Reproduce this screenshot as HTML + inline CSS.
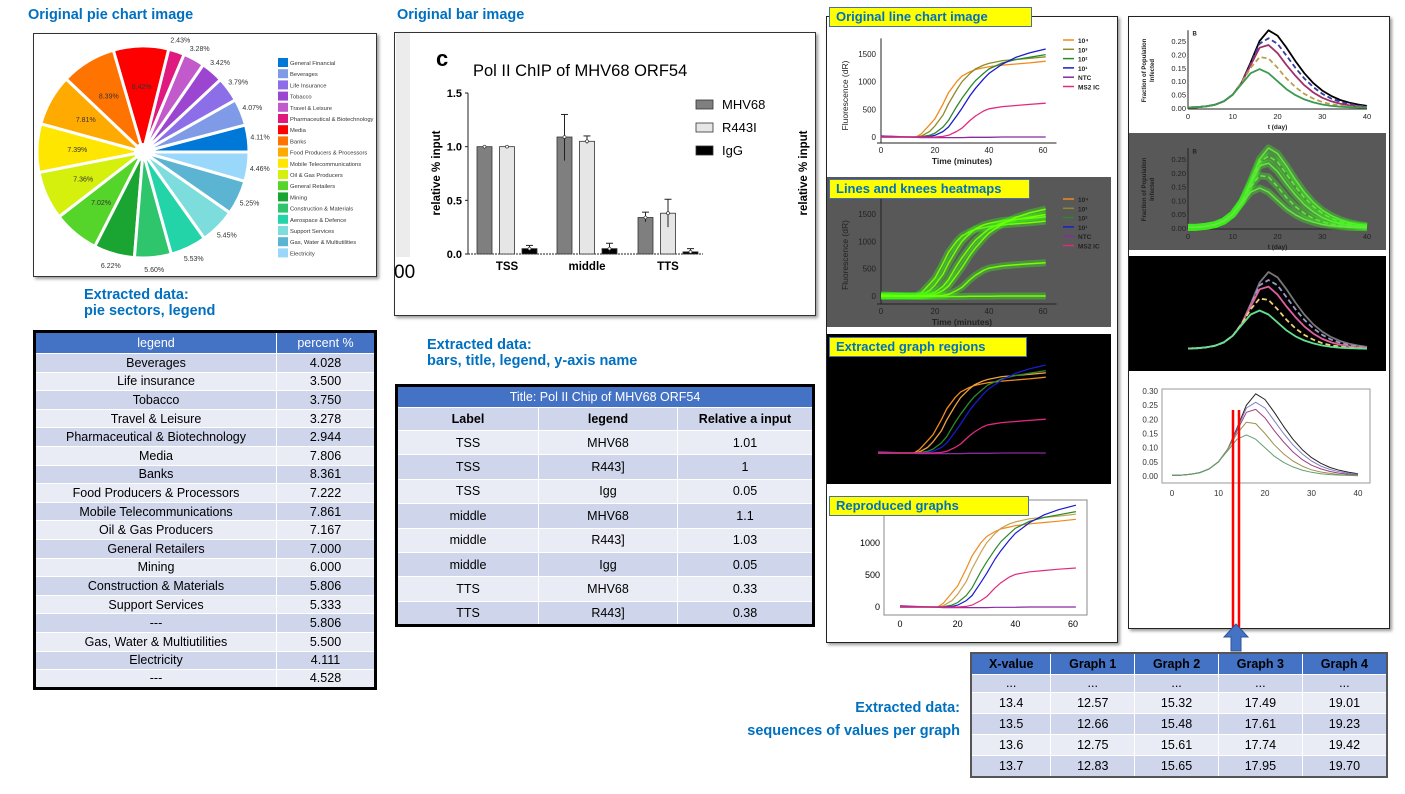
<!DOCTYPE html>
<html><head><meta charset="utf-8">
<style>
body{margin:0;width:1405px;height:794px;background:#fff;position:relative;overflow:hidden;font-family:"Liberation Sans",sans-serif}
.abs{position:absolute}
.ttl{position:absolute;color:#0070C0;font-weight:bold;font-size:14.5px;white-space:nowrap}
.ylab{position:absolute;background:#ffff00;border:1px solid #4a6fa5;color:#0070C0;font-weight:bold;font-size:13px;padding:0 0 0 6px;box-sizing:border-box;line-height:18px}
table{border-collapse:collapse;position:absolute;font-size:12.5px;text-align:center}
td{padding:0;border:1px solid #fff}
.b{background:#CFD5EA}.l{background:#E9EBF5}
.hd{background:#4472C4;color:#fff}
.pt tr{height:18.6px}
.pt tr.hd{height:22px}
svg{position:absolute;left:0;top:0}
</style></head><body>

<div class="ttl" style="left:28px;top:7px">Original pie chart image</div>
<div class="abs" style="left:33px;top:33px;width:342px;height:242px;border:1px solid #333;box-shadow:2px 2px 3px #999"></div>
<div class="ttl" style="left:84px;top:287px">Extracted data:<br>pie sectors, legend</div>

<table class="pt" style="left:33px;top:330px;width:344px;border:3px solid #000">
<tr class="hd"><td style="width:240px">legend</td><td>percent %</td></tr>
<tr class="b"><td>Beverages</td><td>4.028</td></tr>
<tr class="l"><td>Life insurance</td><td>3.500</td></tr>
<tr class="b"><td>Tobacco</td><td>3.750</td></tr>
<tr class="l"><td>Travel &amp; Leisure</td><td>3.278</td></tr>
<tr class="b"><td>Pharmaceutical &amp; Biotechnology</td><td>2.944</td></tr>
<tr class="l"><td>Media</td><td>7.806</td></tr>
<tr class="b"><td>Banks</td><td>8.361</td></tr>
<tr class="l"><td>Food Producers &amp; Processors</td><td>7.222</td></tr>
<tr class="b"><td>Mobile Telecommunications</td><td>7.861</td></tr>
<tr class="l"><td>Oil &amp; Gas Producers</td><td>7.167</td></tr>
<tr class="b"><td>General Retailers</td><td>7.000</td></tr>
<tr class="l"><td>Mining</td><td>6.000</td></tr>
<tr class="b"><td>Construction &amp; Materials</td><td>5.806</td></tr>
<tr class="l"><td>Support Services</td><td>5.333</td></tr>
<tr class="b"><td>---</td><td>5.806</td></tr>
<tr class="l"><td>Gas, Water &amp; Multiutilities</td><td>5.500</td></tr>
<tr class="b"><td>Electricity</td><td>4.111</td></tr>
<tr class="l"><td>---</td><td>4.528</td></tr>
</table>

<div class="ttl" style="left:397px;top:7px">Original bar image</div>
<div class="abs" style="left:394px;top:32px;width:420px;height:282px;border:1px solid #333;box-shadow:2px 2px 3px #999"></div>
<div class="abs" style="left:396px;top:33px;width:14px;height:224px;background:#ececec"></div>
<div class="abs" style="left:394px;top:262px;font-size:19px">00</div>
<div class="ttl" style="left:427px;top:337px">Extracted data:<br>bars, title, legend, y-axis name</div>

<table style="left:395px;top:384px;width:420px;border:3px solid #000;font-size:12.5px">
<tr class="hd" style="height:22px"><td colspan="3">Title: Pol II Chip of MHV68 ORF54</td></tr>
<tr class="b" style="height:23px;font-weight:bold"><td style="width:140px">Label</td><td style="width:138px">legend</td><td>Relative a input</td></tr>
<tr class="l" style="height:24.4px"><td>TSS</td><td>MHV68</td><td>1.01</td></tr>
<tr class="b" style="height:24.4px"><td>TSS</td><td>R443]</td><td>1</td></tr>
<tr class="l" style="height:24.4px"><td>TSS</td><td>Igg</td><td>0.05</td></tr>
<tr class="b" style="height:24.4px"><td>middle</td><td>MHV68</td><td>1.1</td></tr>
<tr class="l" style="height:24.4px"><td>middle</td><td>R443]</td><td>1.03</td></tr>
<tr class="b" style="height:24.4px"><td>middle</td><td>Igg</td><td>0.05</td></tr>
<tr class="l" style="height:24.4px"><td>TTS</td><td>MHV68</td><td>0.33</td></tr>
<tr class="b" style="height:24.4px"><td>TTS</td><td>R443]</td><td>0.38</td></tr>
</table>

<!-- line panels -->
<div class="abs" style="left:826px;top:16px;width:290px;height:625px;border:1px solid #222;box-shadow:2px 2px 3px #999"></div>
<div class="abs" style="left:827px;top:177px;width:284px;height:150px;background:#585858"></div>
<div class="abs" style="left:827px;top:334px;width:284px;height:150px;background:#000"></div>

<div class="abs" style="left:1128px;top:16px;width:260px;height:611px;border:1px solid #222;box-shadow:2px 2px 3px #999"></div>
<div class="abs" style="left:1129px;top:133px;width:257px;height:117px;background:#585858"></div>
<div class="abs" style="left:1129px;top:256px;width:257px;height:115px;background:#000"></div>

<svg id="s" width="1405" height="794"></svg>

<div class="ylab" style="left:829px;top:7px;width:203px">Original line chart image</div>
<div class="ylab" style="left:829px;top:179px;width:201px">Lines and knees heatmaps</div>
<div class="ylab" style="left:829px;top:337px;width:198px">Extracted graph regions</div>
<div class="ylab" style="left:829px;top:496px;width:200px">Reproduced graphs</div>

<div class="ttl" style="left:700px;top:697px;width:260px;text-align:right;line-height:23px">Extracted data:<br>sequences of values per graph</div>
<table style="left:970px;top:652px;width:418px;border:2px solid #555;font-size:12.5px">
<tr class="hd" style="height:21px;font-weight:bold;color:#000"><td>X-value</td><td>Graph 1</td><td>Graph 2</td><td>Graph 3</td><td>Graph 4</td></tr>
<tr class="b" style="height:18px"><td>...</td><td>...</td><td>...</td><td>...</td><td>...</td></tr>
<tr class="l" style="height:21px"><td>13.4</td><td>12.57</td><td>15.32</td><td>17.49</td><td>19.01</td></tr>
<tr class="b" style="height:21px"><td>13.5</td><td>12.66</td><td>15.48</td><td>17.61</td><td>19.23</td></tr>
<tr class="l" style="height:21px"><td>13.6</td><td>12.75</td><td>15.61</td><td>17.74</td><td>19.42</td></tr>
<tr class="b" style="height:22px"><td>13.7</td><td>12.83</td><td>15.65</td><td>17.95</td><td>19.70</td></tr>
</table>

<script>
// ---- pie data ----
const pieLabels=["General Financial","Beverages","Life Insurance","Tobacco","Travel & Leisure","Pharmaceutical & Biotechnology","Media","Banks","Food Producers & Processors","Mobile Telecommunications","Oil & Gas Producers","General Retailers","Mining","Construction & Materials","Aerospace & Defence","Support Services","Gas, Water & Multiutilities","Electricity"];
const pieValues=[4.11,4.07,3.79,3.42,3.28,2.43,8.42,8.39,7.81,7.39,7.36,7.02,6.22,5.60,5.53,5.45,5.25,4.46];
const pieColors=["#0078d7","#7f9ae6","#8b6ee8","#9b45d0","#c25acc","#e0197e","#ff0000","#ff7300","#ffaa00","#ffe600","#d4f00c","#55d42a","#1aa532","#2ec56c","#22d4a8","#7ddddd","#5ab4d2","#99d8fa"];
// ---- bar data ----
const barCats=["TSS","middle","TTS"];
const barSeries=["MHV68","R443I","IgG"];
const barMHV=[1.0,1.09,0.34];
const barR443=[1.0,1.05,0.38];
const barIgG=[0.05,0.05,0.02];
const errLo=[[1.0,0.87,0.3],[1.0,1.03,0.25],[0.03,0.02,0.0]];
const errHi=[[1.0,1.3,0.39],[1.0,1.1,0.51],[0.08,0.1,0.05]];
const barTicks=[0,0.5,1.0,1.5];
// ---- qPCR line data ----
const qTime=[0,5,10,13,15,18,20,23,25,28,30,33,35,38,40,45,50,55,61];
const q1e4=[0,0,0,0,60,220,330,600,800,1000,1100,1180,1220,1250,1270,1300,1320,1340,1370];
const q1e3=[0,0,0,0,20,100,200,400,600,850,1000,1150,1230,1300,1330,1380,1400,1420,1450];
const q1e2=[0,0,0,0,5,30,70,180,300,550,700,900,1020,1150,1230,1340,1400,1440,1490];
const q1e1=[0,0,0,0,0,10,30,100,180,380,520,750,880,1050,1150,1320,1440,1520,1590];
const qNTC=[20,10,0,-5,-10,-10,-10,-10,-10,-10,-10,-5,-5,-5,-5,0,0,0,0];
const qMS2=[0,0,0,0,0,0,0,10,30,100,160,300,380,470,510,550,570,590,610];
const qNames=["10⁴","10³","10²","10¹","NTC","MS2 IC"];
const qTicksY=[0,500,1000,1500];
const qTicksX=[0,20,40,60];
// ---- SIR data ----
const sDays=[0,2,4,6,8,10,12,14,16,18,20,22,24,26,28,30,32,34,36,38,40];
const sGreen=[.002,.003,.006,.012,.025,.05,.09,.13,.145,.13,.1,.07,.048,.032,.021,.013,.008,.005,.003,.002,.001];
const sTan=[.002,.003,.006,.012,.025,.05,.095,.15,.19,.185,.15,.11,.078,.053,.035,.022,.014,.009,.005,.003,.002];
const sMag=[.002,.003,.006,.012,.025,.05,.095,.16,.225,.235,.205,.16,.12,.085,.058,.038,.025,.016,.01,.006,.004];
const sBlue=[.002,.003,.006,.012,.025,.05,.095,.165,.24,.26,.24,.195,.15,.11,.078,.053,.035,.023,.015,.009,.006];
const sBlack=[.002,.003,.006,.012,.025,.05,.095,.17,.25,.29,.27,.225,.175,.13,.093,.065,.045,.03,.02,.013,.008];
const sTicksY=[0,0.05,0.10,0.15,0.20,0.25];
const sTicksX=[0,10,20,30,40];
const sTicksY4=[0,0.05,0.10,0.15,0.20,0.25,0.30];

const S=document.getElementById('s');
const NS='http://www.w3.org/2000/svg';
function mk(tag,at,txt,name){const e=document.createElementNS(NS,tag);for(const k in at)e.setAttribute(k,at[k]);if(txt!==undefined)e.textContent=txt;


S.appendChild(e);return e;}
function lin(d0,d1,r0,r1){return v=>r0+(v-d0)*(r1-r0)/(d1-d0);}
function pl(xs,ys,fx,fy,st,name){const p=xs.map((x,i)=>fx(x).toFixed(1)+','+fy(ys[i]).toFixed(1)).join(' ');
const a=Object.assign({points:p,fill:'none','stroke-linejoin':'round'},st);return mk('polyline',a,undefined,name);}

// ---- PIE ----
(function(){const cx=143,cy=152,r=106;const tot=pieValues.reduce((a,b)=>a+b,0);let a0=0;
pieValues.forEach((v,i)=>{const a1=a0+v/tot*2*Math.PI;
const x0=cx+r*Math.cos(a0),y0=cy-r*Math.sin(a0),x1=cx+r*Math.cos(a1),y1=cy-r*Math.sin(a1);
mk('path',{d:`M${cx},${cy}L${x0},${y0}A${r},${r} 0 ${a1-a0>Math.PI?1:0} 0 ${x1},${y1}Z`,fill:pieColors[i],stroke:'#fff','stroke-width':3},undefined,'pie-slice-'+i);
const am=(a0+a1)/2;const big=v>=7;const rr=big?r*0.62:r+12;
mk('text',{x:cx+rr*Math.cos(am),y:cy-rr*Math.sin(am)+2.5,'font-size':7,'text-anchor':'middle',fill:'#333'},v.toFixed(2)+'%','pie-label-'+i);
a0=a1;});
mk('circle',{cx:cx,cy:cy,r:9,fill:'#fff'},undefined,'pie-center');
pieLabels.forEach((t,i)=>{const y=58+i*11.2;
mk('rect',{x:278,y:y,width:10,height:9,fill:pieColors[i]},undefined,'legend-swatch-'+i);
mk('text',{x:290,y:y+7,'font-size':5.8,fill:'#333'},t,'legend-entry-'+i);});})();

// ---- BAR ----
(function(){const fy=lin(0,1.5,254,93);const gx=[477,557,638];
mk('text',{x:436,y:66,'font-size':22,'font-weight':'bold'},'c','panel-letter');
mk('text',{x:473,y:76,'font-size':16.5},'Pol II ChIP of MHV68 ORF54','bar-chart-title');
mk('line',{x1:468,y1:93,x2:468,y2:254,stroke:'#222','stroke-width':1},undefined,'y-axis');
mk('line',{x1:468,y1:254,x2:703,y2:254,stroke:'#222','stroke-width':1,'stroke-dasharray':'2,1'},undefined,'x-axis');
barTicks.forEach(t=>{mk('line',{x1:465,y1:fy(t),x2:468,y2:fy(t),stroke:'#222'},undefined,'y-tick');
mk('text',{x:462,y:fy(t)+4,'font-size':11,'font-weight':'bold','text-anchor':'end'},t.toFixed(1),'y-tick-label');});
mk('text',{transform:'translate(440,173) rotate(-90)','font-size':11.5,'font-weight':'bold','text-anchor':'middle'},'relative % input','y-axis-title');
mk('text',{transform:'translate(807,173) rotate(-90)','font-size':11.5,'font-weight':'bold','text-anchor':'middle'},'relative % input','y-axis-title-cropped');
const fills=['#7f7f7f','#e6e6e6','#000'];const vals=[barMHV,barR443,barIgG];
barCats.forEach((c,ci)=>{vals.forEach((arr,si)=>{const x=gx[ci]+si*22.5;const v=arr[ci];
mk('rect',{x:x,y:fy(v),width:15,height:fy(0)-fy(v),fill:fills[si],stroke:'#333','stroke-width':.8},undefined,'bar-'+c+'-'+barSeries[si]);
const lo=errLo[si][ci],hi=errHi[si][ci];
if(hi-lo>0.02){mk('line',{x1:x+7.5,y1:fy(lo),x2:x+7.5,y2:fy(hi),stroke:'#222'},undefined,'error-bar');
mk('line',{x1:x+4,y1:fy(hi),x2:x+11,y2:fy(hi),stroke:'#222'},undefined,'error-cap');}
mk('circle',{cx:x+7.5,cy:fy(v),r:1.5,fill:'#fff',stroke:'#222','stroke-width':.6},undefined,'data-point');});
mk('text',{x:gx[ci]+30,y:270,'font-size':11.5,'font-weight':'bold','text-anchor':'middle'},c,'x-tick-label');});
barSeries.forEach((s,i)=>{mk('rect',{x:696,y:100+i*23,width:17,height:9,fill:fills[i],stroke:'#333','stroke-width':.8},undefined,'bar-legend-swatch');
mk('text',{x:722,y:109+i*23,'font-size':13},s,'bar-legend-entry');});})();

// ---- qPCR panels ----
const qSeries=[q1e4,q1e3,q1e2,q1e1,qNTC,qMS2];
const qCols=['#f08a1c','#8e8a2a','#2a8a2a','#1a1ad0','#8a2aa0','#e02a80'];
function axesQ(fx,fy,xAxisY,col,name){
mk('line',{x1:fx(0),y1:fy(2000)+12,x2:fx(0),y2:xAxisY,stroke:col,'stroke-width':1},undefined,name+'-y-axis');
mk('line',{x1:fx(0)-4,y1:xAxisY,x2:fx(65),y2:xAxisY,stroke:col,'stroke-width':1},undefined,name+'-x-axis');
qTicksY.forEach(t=>mk('text',{x:fx(0)-5,y:fy(t)+3,'font-size':8,'text-anchor':'end',fill:col},t,name+'-y-tick'));
qTicksX.forEach(t=>mk('text',{x:fx(t),y:xAxisY+10,'font-size':8,'text-anchor':'middle',fill:col},t,name+'-x-tick'));
mk('text',{x:fx(30),y:xAxisY+21,'font-size':8.5,'font-weight':'bold','text-anchor':'middle',fill:col},'Time (minutes)',name+'-x-title');
mk('text',{transform:`translate(${fx(0)-33},${fy(750)}) rotate(-90)`,'font-size':8.5,'text-anchor':'middle',fill:col},'Fluorescence (dR)',name+'-y-title');
qNames.forEach((n,i)=>{const y=40+i*9.3+(fy(0)-137);
mk('line',{x1:1063,y1:y,x2:1074,y2:y,stroke:qCols[i],'stroke-width':1.5},undefined,name+'-legend-line');
mk('text',{x:1078,y:y+3,'font-size':6.5,'font-weight':'bold',fill:'#222'},n,name+'-legend-entry');});}
(function(){
let fx=lin(0,60,881,1043),fy=lin(0,1500,137,54);
axesQ(fx,fy,143,'#222','line-orig');
qSeries.forEach((d,i)=>pl(qTime,d,fx,fy,{stroke:qCols[i],'stroke-width':1.3},'line-orig-'+i));
fy=lin(0,1500,296,214);
axesQ(fx,fy,304,'#222','line-heat');
qSeries.forEach((d,i)=>{pl(qTime,d,fx,fy,{stroke:'#39ff14','stroke-width':7,opacity:.35},'line-heat-glow-'+i);
pl(qTime,d,fx,fy,{stroke:'#7cfc00','stroke-width':1.5},'line-heat-'+i);});
fx=lin(0,60,878,1043);fy=lin(0,1500,453,370);
qSeries.forEach((d,i)=>pl(qTime,d,fx,fy,{stroke:i==1?'#f0a040':qCols[i],'stroke-width':1.3},'line-extracted-'+i));
fx=lin(0,60,900,1073);fy=lin(0,1000,607,543);
mk('rect',{x:884,y:500,width:203,height:115,fill:'none',stroke:'#888'},undefined,'reproduced-frame');
[0,500,1000].forEach(t=>mk('text',{x:880,y:fy(t)+3,'font-size':9,'text-anchor':'end'},t,'reproduced-y-tick'));
qTicksX.forEach(t=>mk('text',{x:fx(t),y:627,'font-size':9,'text-anchor':'middle'},t,'reproduced-x-tick'));
qSeries.forEach((d,i)=>pl(qTime,d,fx,fy,{stroke:i==1?'#c8a050':qCols[i],'stroke-width':1.2},'line-reproduced-'+i));
})();

// ---- SIR panels ----
const sSeries=[sBlack,sBlue,sMag,sTan,sGreen];
const sCols=['#000','#3a3aa0','#a0306a','#b8a050','#3a9a50'];
const sDash=['','5,3','','5,3',''];
function axesS(fx,fy,col,name){
mk('line',{x1:fx(0),y1:fy(0.29),x2:fx(0),y2:fy(0)+1,stroke:col},undefined,name+'-y-axis');
mk('line',{x1:fx(0),y1:fy(0)+1,x2:fx(40),y2:fy(0)+1,stroke:col},undefined,name+'-x-axis');
sTicksY.forEach(t=>mk('text',{x:fx(0)-2,y:fy(t)+3,'font-size':7.5,'text-anchor':'end',fill:col},t.toFixed(2),name+'-y-tick'));
sTicksX.forEach(t=>mk('text',{x:fx(t),y:fy(0)+11,'font-size':7.5,'text-anchor':'middle',fill:col},t,name+'-x-tick'));
mk('text',{x:fx(20),y:fy(0)+21,'font-size':6.5,'font-weight':'bold','text-anchor':'middle',fill:col},'t (day)',name+'-x-title');
mk('text',{x:fx(1),y:fy(0.27),'font-size':6,'font-weight':'bold',fill:col},'B',name+'-panel-letter');
mk('text',{transform:`translate(${fx(0)-42},${fy(0.14)}) rotate(-90)`,'font-size':6,'font-weight':'bold','text-anchor':'middle',fill:col},'Fraction of Population',name+'-y-title');
mk('text',{transform:`translate(${fx(0)-34},${fy(0.14)}) rotate(-90)`,'font-size':6,'font-weight':'bold','text-anchor':'middle',fill:col},'Infected',name+'-y-title2');}
(function(){
let fx=lin(0,40,1188,1367),fy=lin(0,.25,108,41);
axesS(fx,fy,'#222','sir-orig');
sSeries.forEach((d,i)=>pl(sDays,d,fx,fy,{stroke:sCols[i],'stroke-width':1.8,'stroke-dasharray':sDash[i]},'sir-orig-'+i));
fy=lin(0,.25,228,159);
axesS(fx,fy,'#222','sir-heat');
sSeries.forEach((d,i)=>{pl(sDays,d,fx,fy,{stroke:'#39ff14','stroke-width':7,opacity:.35},'sir-heat-glow-'+i);
pl(sDays,d,fx,fy,{stroke:'#6ee04a','stroke-width':1.5,'stroke-dasharray':sDash[i]},'sir-heat-'+i);});
fy=lin(0,.29,349,272);
const sc3=['#777','#9999cc','#e060a0','#f0d070','#60e090'];
sSeries.forEach((d,i)=>pl(sDays,d,fx,fy,{stroke:sc3[i],'stroke-width':1.8,'stroke-dasharray':sDash[i]},'sir-extracted-'+i));
fx=lin(0,40,1172,1358);fy=lin(0,.3,476,391);
mk('rect',{x:1162,y:389,width:208,height:94,fill:'none',stroke:'#999'},undefined,'sir-reproduced-frame');
sTicksY4.forEach(t=>mk('text',{x:1158,y:fy(t)+3,'font-size':8,'text-anchor':'end',fill:'#333'},t.toFixed(2),'sir-reproduced-y-tick'));
sTicksX.forEach(t=>mk('text',{x:fx(t),y:496,'font-size':8,'text-anchor':'middle',fill:'#333'},t,'sir-reproduced-x-tick'));
const sc4=['#222','#8080c0','#a04080','#a09050','#60a070'];
sSeries.forEach((d,i)=>pl(sDays,d,fx,fy,{stroke:sc4[i],'stroke-width':1},'sir-reproduced-'+i));
mk('line',{x1:1233,y1:410,x2:1233,y2:630,stroke:'#f00','stroke-width':2.5},undefined,'marker-line-1');
mk('line',{x1:1239,y1:410,x2:1239,y2:630,stroke:'#f00','stroke-width':2.5},undefined,'marker-line-2');
mk('path',{d:'M1236,624 L1248,637 L1241,637 L1241,651 L1231,651 L1231,637 L1224,637 Z',fill:'#4472C4',stroke:'#2f5597','stroke-width':1},undefined,'pointer-arrow');
})();
</script>
</body></html>
